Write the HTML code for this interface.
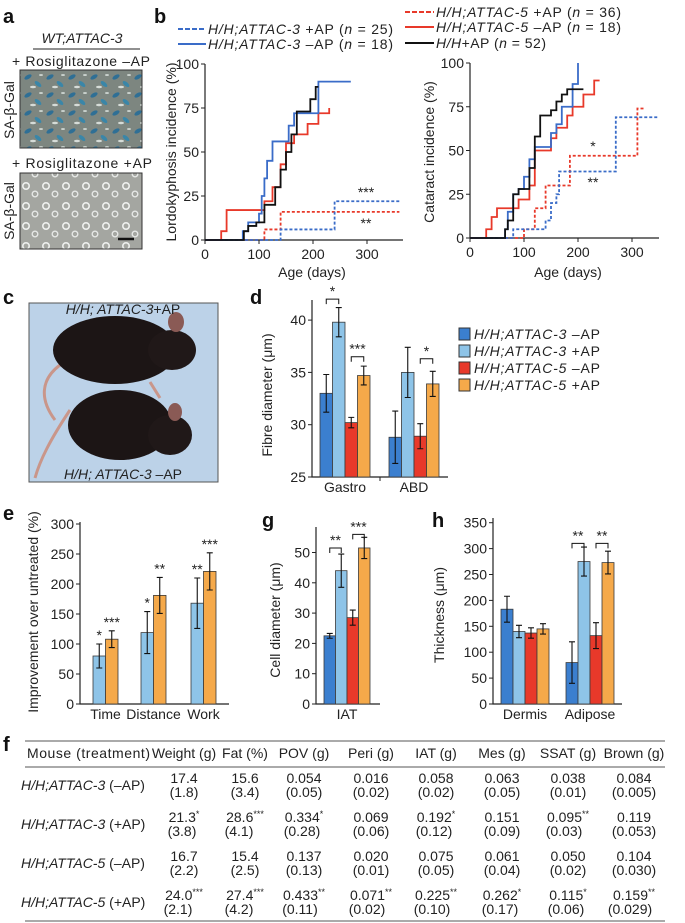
<!DOCTYPE html>
<html><head><meta charset="utf-8"><style>
html,body{margin:0;padding:0;background:#fff;}
svg{display:block;font-family:"Liberation Sans",Arial,sans-serif;}
.t{font-size:14px;fill:#222;}
.tk{font-size:14px;fill:#222;}
.pl{font-size:20px;font-weight:bold;fill:#111;}
.tb{font-size:14px;fill:#222;}
</style></head><body>
<svg id="fig" width="685" height="923" viewBox="0 0 685 923" xmlns="http://www.w3.org/2000/svg">
<defs>
<pattern id="pat1" width="22" height="18" patternUnits="userSpaceOnUse">
<rect width="22" height="18" fill="#7d8680"/>
<ellipse cx="6" cy="5" rx="4" ry="2" fill="#2f6f95" transform="rotate(-30 6 5)"/>
<ellipse cx="16" cy="12" rx="4" ry="2" fill="#3a86a8" transform="rotate(40 16 12)"/>
<ellipse cx="11" cy="15" rx="3" ry="1.2" fill="#d6dcd8"/>
<ellipse cx="19" cy="3" rx="2" ry="1" fill="#c8d0cc"/>
</pattern>
<pattern id="pat2" width="20" height="20" patternUnits="userSpaceOnUse">
<rect width="20" height="20" fill="#a4a6a1"/>
<circle cx="6" cy="6" r="3.2" fill="none" stroke="#eef0ee" stroke-width="1.6"/>
<circle cx="15" cy="14" r="2.8" fill="none" stroke="#e6e8e6" stroke-width="1.4"/>
</pattern>
</defs>

<!-- panel a -->
<text x="3" y="23" class="pl">a</text>
<text x="82" y="43" class="t" text-anchor="middle" font-style="italic">WT;ATTAC-3</text>
<line x1="33" y1="49" x2="140" y2="49" stroke="#222" stroke-width="1"/>
<text x="12" y="66" class="t" textLength="138">+ Rosiglitazone –AP</text>
<rect x="20" y="70" width="122" height="78" fill="url(#pat1)" stroke="#333"/>
<text transform="translate(14,110) rotate(-90)" class="t" text-anchor="middle">SA-β-Gal</text>
<text x="12" y="168" class="t" textLength="140">+ Rosiglitazone +AP</text>
<rect x="20" y="173" width="122" height="76" fill="url(#pat2)" stroke="#333"/>
<line x1="118" y1="239" x2="134" y2="239" stroke="#111" stroke-width="2.5"/>
<text transform="translate(14,211) rotate(-90)" class="t" text-anchor="middle">SA-β-Gal</text>

<!-- panel b -->
<text x="154" y="23" class="pl">b</text>
<g>
<line x1="178" y1="29" x2="206" y2="29" stroke="#3a6cc8" stroke-width="2" stroke-dasharray="5,2"/>
<text x="208" y="34" class="t" textLength="185"><tspan font-style="italic">H/H;ATTAC-3</tspan> +AP (<tspan font-style="italic">n</tspan> = 25)</text>
<line x1="178" y1="44" x2="206" y2="44" stroke="#3a6cc8" stroke-width="2"/>
<text x="208" y="49" class="t" textLength="185"><tspan font-style="italic">H/H;ATTAC-3</tspan> –AP (<tspan font-style="italic">n</tspan> = 18)</text>
<line x1="405" y1="12" x2="434" y2="12" stroke="#e8392a" stroke-width="2" stroke-dasharray="5,2"/>
<text x="436" y="17" class="t" textLength="185"><tspan font-style="italic">H/H;ATTAC-5</tspan> +AP (<tspan font-style="italic">n</tspan> = 36)</text>
<line x1="405" y1="27" x2="434" y2="27" stroke="#e8392a" stroke-width="2"/>
<text x="436" y="32" class="t" textLength="185"><tspan font-style="italic">H/H;ATTAC-5</tspan> –AP (<tspan font-style="italic">n</tspan> = 18)</text>
<line x1="405" y1="43" x2="434" y2="43" stroke="#111" stroke-width="2"/>
<text x="436" y="48" class="t" textLength="110"><tspan font-style="italic">H/H</tspan>+AP (<tspan font-style="italic">n</tspan> = 52)</text>
</g>
<text transform="translate(176,152) rotate(-90)" class="t" text-anchor="middle">Lordokyphosis incidence (%)</text>
<text x="312" y="277" class="t" text-anchor="middle">Age (days)</text>
<text transform="translate(434,152) rotate(-90)" class="t" text-anchor="middle">Cataract incidence (%)</text>
<text x="568" y="277" class="t" text-anchor="middle">Age (days)</text>
<g id="chartB"></g>

<!-- panel c -->
<text x="3" y="304" class="pl">c</text>
<g>
<rect x="29" y="303" width="189" height="179" fill="#bcd2e8" stroke="#555"/>
<path d="M60,365 C40,380 40,400 55,420" stroke="#c9968a" stroke-width="3" fill="none"/>
<ellipse cx="115" cy="350" rx="62" ry="34" fill="#1c1515"/>
<ellipse cx="172" cy="350" rx="24" ry="20" fill="#201818"/>
<ellipse cx="176" cy="322" rx="8" ry="10" fill="#8a5a55"/>
<path d="M70,410 C50,440 40,460 35,478" stroke="#c9968a" stroke-width="3" fill="none"/>
<ellipse cx="120" cy="425" rx="52" ry="35" fill="#1c1515"/>
<ellipse cx="170" cy="435" rx="22" ry="20" fill="#201818"/>
<ellipse cx="175" cy="412" rx="7" ry="9" fill="#8a5a55"/>
<line x1="150" y1="382" x2="160" y2="398" stroke="#c9968a" stroke-width="3"/>
</g>
<text x="123" y="314" class="t" text-anchor="middle" fill="#333"><tspan font-style="italic">H/H; ATTAC-3</tspan>+AP</text>
<text x="123" y="479" class="t" text-anchor="middle" fill="#333"><tspan font-style="italic">H/H; ATTAC-3</tspan> –AP</text>

<!-- panel d -->
<text x="250" y="304" class="pl">d</text>
<text transform="translate(272,395) rotate(-90)" class="t" text-anchor="middle">Fibre diameter (μm)</text>
<g>
<rect x="459" y="328" width="11" height="12" fill="#3b7fcf" stroke="#333"/>
<text x="474" y="339" class="t" textLength="126"><tspan font-style="italic">H/H;ATTAC-3</tspan> –AP</text>
<rect x="459" y="345" width="11" height="12" fill="#8ec4e8" stroke="#333"/>
<text x="474" y="356" class="t" textLength="126"><tspan font-style="italic">H/H;ATTAC-3</tspan> +AP</text>
<rect x="459" y="362" width="11" height="12" fill="#e8392a" stroke="#333"/>
<text x="474" y="373" class="t" textLength="126"><tspan font-style="italic">H/H;ATTAC-5</tspan> –AP</text>
<rect x="459" y="379" width="11" height="12" fill="#f5a94a" stroke="#333"/>
<text x="474" y="390" class="t" textLength="126"><tspan font-style="italic">H/H;ATTAC-5</tspan> +AP</text>
</g>

<!-- panel e g h -->
<text x="3" y="520" class="pl">e</text>
<text transform="translate(38,612) rotate(-90)" class="t" text-anchor="middle">Improvement over untreated (%)</text>
<text x="262" y="527" class="pl">g</text>
<text transform="translate(280,620) rotate(-90)" class="t" text-anchor="middle">Cell diameter (μm)</text>
<text x="432" y="527" class="pl">h</text>
<text transform="translate(444,615) rotate(-90)" class="t" text-anchor="middle">Thickness (μm)</text>
<g id="bars"></g>

<!-- panel f table -->
<text x="3" y="751" class="pl">f</text>
<g id="table"></g>
</svg>
<script>
// ---- panel b data (Kaplan-Meier style step curves) ----
const lordoBlueSolidDays = [0,70,80,100,105,110,115,125,155,165,210,270];
const lordoBlueSolidPct  = [0,5,10,15,25,35,45,56,65,72,90,90];
const lordoBlackDays = [0,72,80,95,110,130,140,150,160,170,195,205,210];
const lordoBlackPct  = [0,5,8,10,20,30,40,50,60,73,80,87,87];
const lordoRedSolidDays = [0,30,40,100,110,125,140,150,165,190,210,230];
const lordoRedSolidPct  = [0,5,17,17,22,30,43,55,60,66,72,75];
const lordoBlueDashDays = [0,140,240,360];
const lordoBlueDashPct  = [0,6,22,22];
const lordoRedDashDays = [0,110,140,360];
const lordoRedDashPct  = [0,6,16,16];

const catBlueSolidDays = [0,65,70,80,90,100,110,120,150,160,170,190,200];
const catBlueSolidPct  = [0,5,15,25,28,35,45,52,60,65,75,88,100];
const catBlackDays = [0,65,70,80,90,110,120,130,150,160,170,180,210];
const catBlackPct  = [0,5,10,25,28,40,58,70,73,78,82,85,85];
const catRedSolidDays = [0,30,40,50,80,90,110,120,150,160,180,190,210,230,240];
const catRedSolidPct  = [0,5,12,17,17,22,30,50,57,63,70,75,82,90,90];
const catBlueDashDays = [0,80,140,150,160,165,270,350];
const catBlueDashPct  = [0,5,10,20,25,38,69,69];
const catRedDashDays = [0,100,120,140,185,310,325];
const catRedDashPct  = [0,5,17,30,47,74,74];

const bXTicks = [0,100,200,300];
const bYTicks = [0,25,50,75,100];

// ---- bar data ----
const dCategories = ['Gastro','ABD'];
const dMeans = [[33.0,39.8,30.2,34.7],[28.8,35.0,28.9,33.9]];
const dErrs  = [[1.8,1.4,0.5,0.9],[2.5,2.4,1.2,1.2]];
const dTicks = [25,30,35,40];

const eCategories = ['Time','Distance','Work'];
const eMeans = [[80,108],[119,181],[168,221]];
const eErrs  = [[20,14],[35,30],[42,31]];
const eStars = [['*','***'],['*','**'],['**','***']];
const eTicks = [0,50,100,150,200,250,300];

const gCategories = ['IAT'];
const gMeans = [[22.5,44,28.5,51.5]];
const gErrs  = [[0.8,5.5,2.5,3.5]];
const gTicks = [0,10,20,30,40,50];

const hCategories = ['Dermis','Adipose'];
const hMeans = [[183,140,137,145],[80,275,132,273]];
const hErrs  = [[25,12,10,10],[40,28,25,22]];
const hTicks = [0,50,100,150,200,250,300,350];

// ---- table data ----
const tHeaders = ['Weight (g)','Fat (%)','POV (g)','Peri (g)','IAT (g)','Mes (g)','SSAT (g)','Brown (g)'];
const tRowGeno = ['H/H;ATTAC-3','H/H;ATTAC-3','H/H;ATTAC-5','H/H;ATTAC-5'];
const tRowTreat = [' (–AP)',' (+AP)',' (–AP)',' (+AP)'];
const tMeans = [
 ['17.4','15.6','0.054','0.016','0.058','0.063','0.038','0.084'],
 ['21.3','28.6','0.334','0.069','0.192','0.151','0.095','0.119'],
 ['16.7','15.4','0.137','0.020','0.075','0.061','0.050','0.104'],
 ['24.0','27.4','0.433','0.071','0.225','0.262','0.115','0.159']];
const tStars = [
 ['','','','','','','',''],
 ['*','***','*','','*','','**',''],
 ['','','','','','','',''],
 ['***','***','**','**','**','*','*','**']];
const tSDs = [
 ['(1.8)','(3.4)','(0.05)','(0.02)','(0.02)','(0.05)','(0.01)','(0.005)'],
 ['(3.8)','(4.1)','(0.28)','(0.06)','(0.12)','(0.09)','(0.03)','(0.053)'],
 ['(2.2)','(2.5)','(0.13)','(0.01)','(0.05)','(0.04)','(0.02)','(0.030)'],
 ['(2.1)','(4.2)','(0.11)','(0.02)','(0.10)','(0.17)','(0.06)','(0.029)']];

const NS='http://www.w3.org/2000/svg';
const COLORS=['#3b7fcf','#8ec4e8','#e8392a','#f5a94a'];
function el(parent, tag, attrs){
  const e=document.createElementNS(NS,tag);
  for(const k in attrs) e.setAttribute(k,attrs[k]);
  parent.appendChild(e);
  return e;
}
function text(parent,x,y,s,anchor,cls){
  const t=el(parent,'text',{x:x,y:y,'text-anchor':anchor||'middle','class':cls||'tk'});
  t.textContent=s;
  return t;
}

// ---- panel b ----
const gB=document.getElementById('chartB');
function stepChart(x0,y0,yTop,xEnd,prefix,series){
  const sx=d=>x0+d*0.54;
  const sy=v=>y0-v*(y0-yTop)/100;
  const ax=el(gB,'path',{d:`M${x0},${yTop} V${y0} H${xEnd}`,fill:'none',stroke:'#222','stroke-width':1.2});
  
  
  bXTicks.forEach(t=>{
    const l=el(gB,'line',{x1:sx(t),x2:sx(t),y1:y0,y2:y0+4,stroke:'#222'});
    
    
    const tl=text(gB,sx(t),y0+19,String(t));
    
    
  });
  bYTicks.forEach(t=>{
    const l=el(gB,'line',{x1:x0-4,x2:x0,y1:sy(t),y2:sy(t),stroke:'#222'});
    
    
    const tl=text(gB,x0-6,sy(t)+5,String(t),'end');
    
    
  });
  series.forEach(s=>{
    let d=`M${sx(s.days[0])},${sy(s.pct[0])}`;
    for(let i=1;i<s.days.length;i++){ d+=` H${sx(s.days[i])} V${sy(s.pct[i])}`; }
    const p=el(gB,'path',{d:d,fill:'none',stroke:s.color,'stroke-width':1.8});
    if(s.dash) p.setAttribute('stroke-dasharray','3,2');
    
    
  });
}
stepChart(205,240,64,403,'lordo',[
 {name:'attac5-plus-line',days:lordoRedDashDays,pct:lordoRedDashPct,color:'#e8392a',dash:1},
 {name:'attac3-plus-line',days:lordoBlueDashDays,pct:lordoBlueDashPct,color:'#3a6cc8',dash:1},
 {name:'attac5-minus-line',days:lordoRedSolidDays,pct:lordoRedSolidPct,color:'#e8392a'},
 {name:'attac3-minus-line',days:lordoBlueSolidDays,pct:lordoBlueSolidPct,color:'#3a6cc8'},
 {name:'hh-line',days:lordoBlackDays,pct:lordoBlackPct,color:'#111'}]);
stepChart(470,238,63,659,'cataract',[
 {name:'attac5-plus-line',days:catRedDashDays,pct:catRedDashPct,color:'#e8392a',dash:1},
 {name:'attac3-plus-line',days:catBlueDashDays,pct:catBlueDashPct,color:'#3a6cc8',dash:1},
 {name:'attac5-minus-line',days:catRedSolidDays,pct:catRedSolidPct,color:'#e8392a'},
 {name:'attac3-minus-line',days:catBlueSolidDays,pct:catBlueSolidPct,color:'#3a6cc8'},
 {name:'hh-line',days:catBlackDays,pct:catBlackPct,color:'#111'}]);
[[366,197,'***','lordo-sig-attac3'],[366,228,'**','lordo-sig-attac5'],[593,151,'*','cataract-sig-attac5'],[593,187,'**','cataract-sig-attac3']].forEach(a=>{
  const t=text(gB,a[0],a[1],a[2],'middle','tk');
  t.setAttribute('font-size','11');
  
  
});

// ---- bar charts ----
const gBars=document.getElementById('bars');
function barChart(o){
  const sy=v=>o.y0-(v-o.vmin)*o.ppu;
  const ax=el(gBars,'path',{d:`M${o.x0},${o.yTop} V${o.y0} H${o.xEnd}`,fill:'none',stroke:'#222','stroke-width':1.2});
  
  
  o.ticks.forEach(t=>{
    const l=el(gBars,'line',{x1:o.x0-4,x2:o.x0,y1:sy(t),y2:sy(t),stroke:'#222'});
    
    
    const tl=text(gBars,o.x0-6,sy(t)+5,String(t),'end');
    
    
  });
  o.cats.forEach((c,ci)=>{
    const gx=o.groupX[ci];
    const n=o.means[ci].length;
    const tl=text(gBars,gx+n*o.bw/2,o.y0+15,c);
    
    
    if(o.sep && ci<o.cats.length-1){
      const sl=el(gBars,'line',{x1:o.sep[ci],x2:o.sep[ci],y1:o.y0,y2:o.y0+4,stroke:'#222'});
      
      
    }
    o.means[ci].forEach((m,bi)=>{
      const x=gx+bi*o.bw;
      const y=sy(m);
      const r=el(gBars,'rect',{x:x,y:y,width:o.bw,height:o.y0-y,fill:o.colors[bi],stroke:'#3a3a3a','stroke-width':0.8});
      
      
      const e=o.errs[ci][bi], cx=x+o.bw/2;
      const eb=el(gBars,'path',{d:`M${cx},${sy(m-e)} V${sy(m+e)} M${cx-3},${sy(m-e)} H${cx+3} M${cx-3},${sy(m+e)} H${cx+3}`,stroke:'#111','stroke-width':1.1,fill:'none'});
      
      
      if(o.stars){
        const st=text(gBars,cx,sy(m+e)-4,o.stars[ci][bi],'middle','tk');
        st.setAttribute('font-size','11');
        
        
      }
    });
  });
  (o.brackets||[]).forEach(b=>{
    const gx=o.groupX[b.g];
    const x1=gx+(b.a+0.5)*o.bw, x2=gx+(b.b+0.5)*o.bw, y=sy(b.v);
    const p=el(gBars,'path',{d:`M${x1},${y+5} V${y} H${x2} V${y+5}`,fill:'none',stroke:'#111','stroke-width':1});
    
    
    const st=text(gBars,(x1+x2)/2,y-3,b.s,'middle','tk');
    st.setAttribute('font-size','11');
    
    
  });
}
barChart({prefix:'fibre',x0:312,y0:477,yTop:300,xEnd:448,vmin:25,ppu:10.46,ticks:dTicks,
  cats:dCategories,means:dMeans,errs:dErrs,groupX:[320,389],bw:12.5,colors:COLORS,sep:[380],
  brackets:[{g:0,a:0,b:1,v:42,s:'*'},{g:0,a:2,b:3,v:36.5,s:'***'},{g:1,a:2,b:3,v:36.3,s:'*'}]});
barChart({prefix:'improvement',x0:80,y0:704,yTop:522,xEnd:229,vmin:0,ppu:0.6,ticks:eTicks,
  cats:eCategories,means:eMeans,errs:eErrs,groupX:[93,141,191],bw:12.5,colors:[COLORS[1],COLORS[3]],stars:eStars});
barChart({prefix:'cell',x0:316,y0:704,yTop:527,xEnd:380,vmin:0,ppu:3.03,ticks:gTicks,
  cats:gCategories,means:gMeans,errs:gErrs,groupX:[324],bw:11.5,colors:COLORS,
  brackets:[{g:0,a:0,b:1,v:51.5,s:'**'},{g:0,a:2,b:3,v:56,s:'***'}]});
barChart({prefix:'thickness',x0:493,y0:704,yTop:518,xEnd:622,vmin:0,ppu:0.518,ticks:hTicks,
  cats:hCategories,means:hMeans,errs:hErrs,groupX:[501,566],bw:12,colors:COLORS,
  brackets:[{g:1,a:0,b:1,v:310,s:'**'},{g:1,a:2,b:3,v:310,s:'**'}]});

// ---- table ----
const gT=document.getElementById('table');
const colX=[184,245,304,371,436,502,568,634];
[[741,'table-top-rule'],[767,'table-header-rule'],[921,'table-bottom-rule']].forEach(r=>{
  const l=el(gT,'line',{x1:25,x2:665,y1:r[0],y2:r[0],stroke:'#555','stroke-width':1});
  
  
});
const h0=text(gT,27,758,'Mouse (treatment)','start','tb');
h0.setAttribute('textLength','123');


tHeaders.forEach((h,i)=>{
  const t=text(gT,colX[i],758,h,'middle','tb');
  
  
});
tMeans.forEach((row,ri)=>{
  const y1=783+ri*39, y2=797+ri*39;
  const lab=el(gT,'text',{x:21,y:y1+7,'class':'tb'});
  
  
  const ts1=el(lab,'tspan',{'font-style':'italic'}); ts1.textContent=tRowGeno[ri];
  const ts2=el(lab,'tspan',{}); ts2.textContent=tRowTreat[ri];
  row.forEach((v,ci)=>{
    const t=el(gT,'text',{x:colX[ci],y:y1,'text-anchor':'middle','class':'tb'});
    
    
    const a=el(t,'tspan',{}); a.textContent=v;
    if(tStars[ri][ci]){ const s=el(t,'tspan',{'font-size':'9','dy':'-5'}); s.textContent=tStars[ri][ci]; }
    const sd=text(gT,colX[ci]-(tStars[ri][ci]?tStars[ri][ci].length*2:0),y2,tSDs[ri][ci],'middle','tb');
    
    
  });
});
</script>
</body></html>
